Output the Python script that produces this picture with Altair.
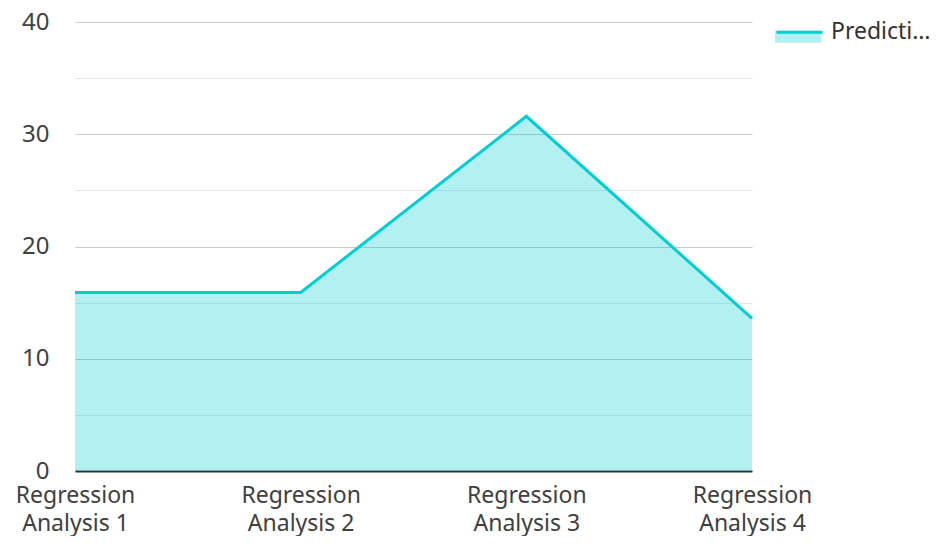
import altair as alt
import pandas as pd

categories = ["Regression Analysis 1", "Regression Analysis 2", "Regression Analysis 3", "Regression Analysis 4"]
values = [15.9, 15.9, 31.6, 13.6]
series_name = "Prediction Value"

df = pd.DataFrame({"category": categories, "value": values, "series": [series_name] * 4, "series_line": [series_name] * 4})

COLOR = "#00CED1"
FONT = "Noto Sans"
FS = 24
XFS = 23
LFS = 23

x_enc = alt.X(
    "category:N",
    sort=categories,
    scale=alt.Scale(type="point", padding=0),
    axis=alt.Axis(
        title=None, labelAngle=0, ticks=False, grid=False,
        domain=True, domainColor="#333333", domainWidth=2,
        labelFontSize=XFS, labelColor="#404040", labelFont=FONT,
        labelPadding=13, labelLineHeight=28,
        labelExpr="[slice(datum.label, 0, 10), slice(datum.label, 11)]",
        labelBaseline="top",
    ),
)
y_enc = alt.Y(
    "value:Q",
    scale=alt.Scale(domain=[0, 40], nice=False),
    axis=alt.Axis(
        title=None, values=list(range(0, 45, 5)), ticks=False, domain=False,
        labelExpr="datum.value % 10 === 0 ? datum.label : ''",
        labelFontSize=FS, labelColor="#404040", labelFont=FONT, labelPadding=26,
        gridColor={"condition": {"test": "datum.value % 10 === 0", "value": "#c8c8c8"}, "value": "#e6e6e6"},
        gridWidth=1.2,
    ),
)

area = alt.Chart(df).mark_area(opacity=0.3).encode(
    x=x_enc, y=y_enc,
    fill=alt.Fill("series:N", scale=alt.Scale(range=[COLOR]), legend=alt.Legend(
        title=None, orient="none", legendX=700, legendY=-13, padding=0,
        symbolType="M-1,-0.05 L1,-0.05 L1,0.47 L-1,0.47 Z", symbolSize=2116,
        symbolOpacity=0.3, symbolStrokeWidth=0,
        labelFontSize=LFS, labelFont=FONT, labelColor="#333333", labelLimit=104, labelOffset=10,
    )),
)
line = alt.Chart(df).mark_line(strokeWidth=3).encode(
    x=x_enc, y=y_enc,
    stroke=alt.Stroke("series_line:N", scale=alt.Scale(range=[COLOR]), legend=alt.Legend(
        title=None, orient="none", legendX=700, legendY=-13, padding=0,
        symbolType="M-1,-0.05 L1,-0.05", symbolSize=2116, symbolStrokeWidth=3,
        symbolFillColor="transparent",
        labelExpr="''",
        labelFontSize=LFS, labelFont=FONT, labelLimit=104, labelOffset=10,
    )),
)

chart = alt.layer(area, line).resolve_scale(fill="independent", stroke="independent").properties(
    width=677, height=449,
    autosize=alt.AutoSizeParams(type="none"),
    padding={"left": 67, "top": 14, "right": 177, "bottom": 65},
).configure_view(stroke=None)

chart.save("out.html", embed_options={"renderer": "svg", "actions": False})
